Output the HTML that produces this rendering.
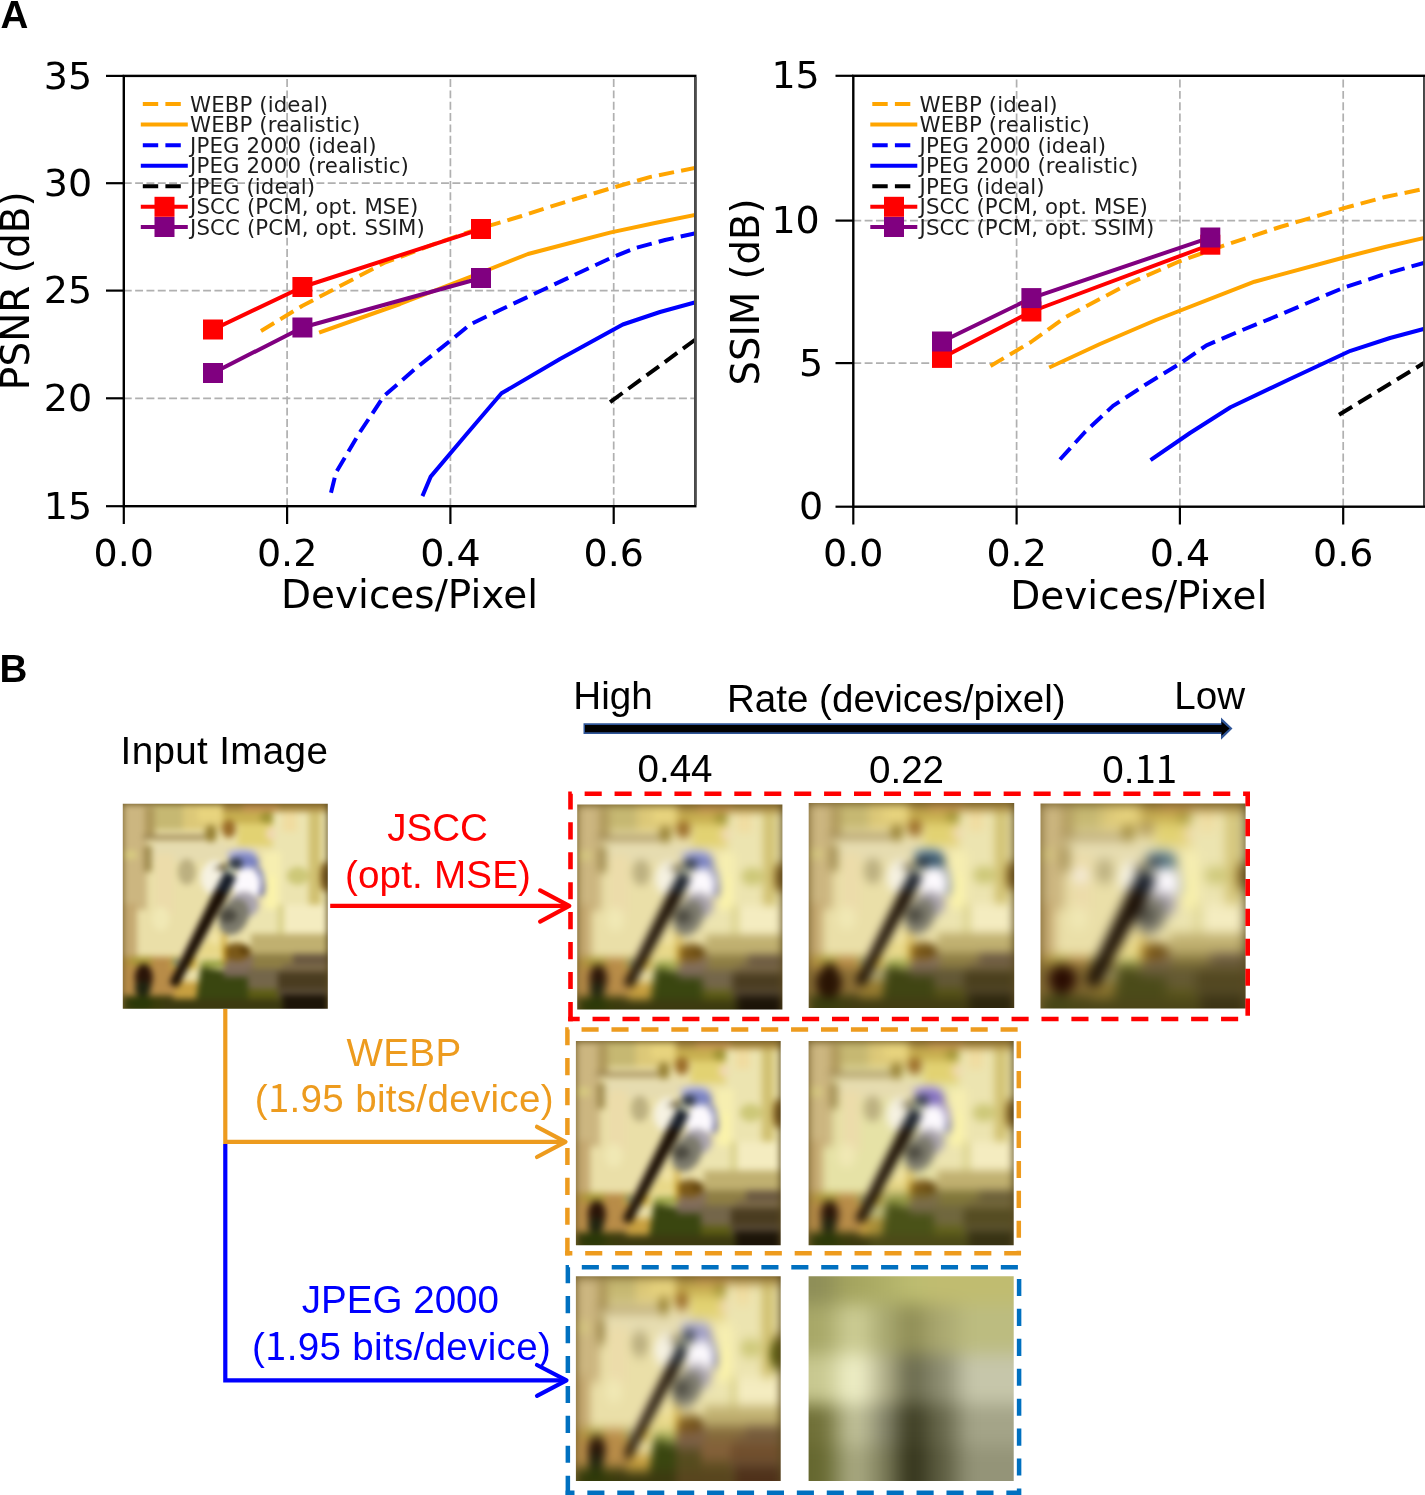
<!DOCTYPE html>
<html lang="en"><head><meta charset="utf-8"><title>Figure</title>
<style>html,body{margin:0;padding:0;background:#fff}svg{display:block}</style>
</head><body>
<svg width="1425" height="1495" viewBox="0 0 1425 1495">
<rect width="1425" height="1495" fill="#fff"/>
<text x="0.6" y="27.7" font-family='"Liberation Sans", Arial, Helvetica, sans-serif' font-weight="bold" font-size="38.6" fill="#000">A</text>
<text x="-0.5" y="681.6" font-family='"Liberation Sans", Arial, Helvetica, sans-serif' font-weight="bold" font-size="38.6" fill="#000">B</text>
<clipPath id="cl1"><rect x="123.8" y="75.9" width="571.5" height="430.3"/></clipPath>
<g stroke="#b0b0b0" stroke-width="1.7" stroke-dasharray="7.93 3.4" fill="none">
<line x1="287.1" y1="506.2" x2="287.1" y2="75.9"/>
<line x1="450.4" y1="506.2" x2="450.4" y2="75.9"/>
<line x1="613.7" y1="506.2" x2="613.7" y2="75.9"/>
<line x1="123.8" y1="398.3" x2="695.3" y2="398.3"/>
<line x1="123.8" y1="290.6" x2="695.3" y2="290.6"/>
<line x1="123.8" y1="183.2" x2="695.3" y2="183.2"/>
</g>
<g clip-path="url(#cl1)" fill="none" stroke-width="4.0" stroke-linejoin="round">
<polyline points="261.0,331.0 302.0,306.0 384.0,263.0 440.0,242.0 481.0,228.0 496.4,223.6 521.7,216.0 557.0,204.6 582.0,197.0 613.4,187.5 650.5,176.9 675.8,171.8 697.0,167.6" stroke="#ffa500" stroke-dasharray="15.4 7.2"/>
<polyline points="321.0,332.0 400.0,304.0 480.0,273.0 528.0,254.0 570.0,243.0 611.0,232.4 655.0,223.0 697.0,214.5" stroke="#ffa500" stroke-linecap="square"/>
<polyline points="331.0,492.7 336.0,472.5 360.0,432.0 384.0,396.0 415.0,369.0 451.0,340.2 470.0,324.5 500.0,310.0 530.6,295.6 570.0,277.0 611.4,257.7 636.7,247.6 665.0,240.0 697.0,233.0" stroke="#0000ff" stroke-dasharray="15.4 7.2"/>
<polyline points="423.2,494.3 430.7,476.6 465.0,436.0 501.5,393.3 560.0,359.0 622.8,324.5 660.0,312.0 697.0,301.8" stroke="#0000ff" stroke-linecap="square"/>
<polyline points="610.1,402.1 697.0,338.4" stroke="#000" stroke-dasharray="15.4 7.2"/>
<polyline points="213.0,373.0 302.4,327.5 481.0,278.0" stroke="#800080" stroke-linecap="square"/>
<polyline points="213.0,329.5 302.4,287.0 481.0,229.0" stroke="#ff0000" stroke-linecap="square"/>
<rect x="203.0" y="363.0" width="20" height="20" fill="#800080" stroke="none"/>
<rect x="292.4" y="317.5" width="20" height="20" fill="#800080" stroke="none"/>
<rect x="471.0" y="268.0" width="20" height="20" fill="#800080" stroke="none"/>
<rect x="203.0" y="319.5" width="20" height="20" fill="#ff0000" stroke="none"/>
<rect x="292.4" y="277.0" width="20" height="20" fill="#ff0000" stroke="none"/>
<rect x="471.0" y="219.0" width="20" height="20" fill="#ff0000" stroke="none"/>
</g>
<rect x="123.8" y="75.9" width="571.5" height="430.3" fill="none" stroke="#000" stroke-width="2.4"/>
<line x1="695.3" y1="77.1" x2="695.3" y2="505.0" stroke="#4d4d4d" stroke-width="2.4"/>
<g stroke="#000" stroke-width="2.2">
<line x1="123.8" y1="506.2" x2="123.8" y2="524.0"/>
<line x1="287.1" y1="506.2" x2="287.1" y2="524.0"/>
<line x1="450.4" y1="506.2" x2="450.4" y2="524.0"/>
<line x1="613.7" y1="506.2" x2="613.7" y2="524.0"/>
<line x1="106.0" y1="506.2" x2="123.8" y2="506.2"/>
<line x1="106.0" y1="398.3" x2="123.8" y2="398.3"/>
<line x1="106.0" y1="290.6" x2="123.8" y2="290.6"/>
<line x1="106.0" y1="183.2" x2="123.8" y2="183.2"/>
<line x1="106.0" y1="75.9" x2="123.8" y2="75.9"/>
</g>
<g font-family='"DejaVu Sans", "Liberation Sans", sans-serif' font-size="38.0" fill="#000">
<text x="123.8" y="565.5" text-anchor="middle">0.0</text>
<text x="287.1" y="565.5" text-anchor="middle">0.2</text>
<text x="450.4" y="565.5" text-anchor="middle">0.4</text>
<text x="613.7" y="565.5" text-anchor="middle">0.6</text>
<text x="92.1" y="518.8" text-anchor="end">15</text>
<text x="92.1" y="410.9" text-anchor="end">20</text>
<text x="92.1" y="303.2" text-anchor="end">25</text>
<text x="92.1" y="195.8" text-anchor="end">30</text>
<text x="92.1" y="88.5" text-anchor="end">35</text>
<text x="409.5" y="608.0" text-anchor="middle" font-size="39.0">Devices/Pixel</text>
<text transform="translate(29.2,290.7) rotate(-90)" text-anchor="middle" font-size="39.0">PSNR (dB)</text>
</g>
<g font-family='"DejaVu Sans", "Liberation Sans", sans-serif' font-size="21.3" fill="#1c1c1c" letter-spacing="0.1">
<line x1="142.8" y1="104.1" x2="185.8" y2="104.1" stroke="#ffa500" stroke-width="4.0" stroke-dasharray="15.4 7.2"/>
<text x="190.1" y="111.6">WEBP (ideal)</text>
<line x1="142.8" y1="124.6" x2="185.8" y2="124.6" stroke="#ffa500" stroke-width="4.0" stroke-linecap="square"/>
<text x="190.1" y="132.1">WEBP (realistic)</text>
<line x1="142.8" y1="145.2" x2="185.8" y2="145.2" stroke="#0000ff" stroke-width="4.0" stroke-dasharray="15.4 7.2"/>
<text x="190.1" y="152.7">JPEG 2000 (ideal)</text>
<line x1="142.8" y1="165.8" x2="185.8" y2="165.8" stroke="#0000ff" stroke-width="4.0" stroke-linecap="square"/>
<text x="190.1" y="173.3">JPEG 2000 (realistic)</text>
<line x1="142.8" y1="186.2" x2="185.8" y2="186.2" stroke="#000" stroke-width="4.0" stroke-dasharray="15.4 7.2"/>
<text x="190.1" y="193.7">JPEG (ideal)</text>
<line x1="142.8" y1="206.8" x2="185.8" y2="206.8" stroke="#ff0000" stroke-width="4.0" stroke-linecap="square"/>
<rect x="154.5" y="196.8" width="20" height="20" fill="#ff0000"/>
<text x="190.1" y="214.3">JSCC (PCM, opt. MSE)</text>
<line x1="142.8" y1="227.0" x2="185.8" y2="227.0" stroke="#800080" stroke-width="4.0" stroke-linecap="square"/>
<rect x="154.5" y="217.0" width="20" height="20" fill="#800080"/>
<text x="190.1" y="234.5">JSCC (PCM, opt. SSIM)</text>
</g>
<clipPath id="cl2"><rect x="853.3" y="75.8" width="571.1" height="430.9"/></clipPath>
<g stroke="#b0b0b0" stroke-width="1.7" stroke-dasharray="7.93 3.4" fill="none">
<line x1="1016.6" y1="506.7" x2="1016.6" y2="75.8"/>
<line x1="1179.9" y1="506.7" x2="1179.9" y2="75.8"/>
<line x1="1343.2" y1="506.7" x2="1343.2" y2="75.8"/>
<line x1="853.3" y1="363.1" x2="1424.4" y2="363.1"/>
<line x1="853.3" y1="220.6" x2="1424.4" y2="220.6"/>
</g>
<g clip-path="url(#cl2)" fill="none" stroke-width="4.0" stroke-linejoin="round">
<polyline points="990.5,366.0 1031.0,342.0 1065.0,317.5 1130.0,283.0 1179.0,261.5 1221.6,246.3 1280.0,227.0 1343.0,208.4 1385.0,197.0 1426.0,188.5" stroke="#ffa500" stroke-dasharray="15.4 7.2"/>
<polyline points="1051.0,366.7 1100.0,344.0 1156.0,320.0 1254.5,281.7 1343.0,257.7 1385.0,247.0 1426.0,237.5" stroke="#ffa500" stroke-linecap="square"/>
<polyline points="1060.0,459.5 1085.0,432.0 1113.0,405.9 1145.0,385.0 1179.0,364.2 1206.5,345.3 1240.0,331.0 1272.0,318.0 1343.0,288.0 1385.0,274.0 1426.0,262.3" stroke="#0000ff" stroke-dasharray="15.4 7.2"/>
<polyline points="1152.2,459.0 1190.0,433.0 1230.5,407.2 1290.0,379.0 1350.5,350.8 1390.0,338.0 1426.0,328.3" stroke="#0000ff" stroke-linecap="square"/>
<polyline points="1339.0,414.7 1426.0,361.8" stroke="#000" stroke-dasharray="15.4 7.2"/>
<polyline points="942.0,357.9 1031.4,311.5 1210.3,244.7" stroke="#ff0000" stroke-linecap="square"/>
<polyline points="942.0,341.5 1031.4,298.1 1210.3,237.5" stroke="#800080" stroke-linecap="square"/>
<rect x="932.0" y="347.9" width="20" height="20" fill="#ff0000" stroke="none"/>
<rect x="1021.4" y="301.5" width="20" height="20" fill="#ff0000" stroke="none"/>
<rect x="1200.3" y="234.7" width="20" height="20" fill="#ff0000" stroke="none"/>
<rect x="932.0" y="331.5" width="20" height="20" fill="#800080" stroke="none"/>
<rect x="1021.4" y="288.1" width="20" height="20" fill="#800080" stroke="none"/>
<rect x="1200.3" y="227.5" width="20" height="20" fill="#800080" stroke="none"/>
</g>
<rect x="853.3" y="75.8" width="571.1" height="430.9" fill="none" stroke="#000" stroke-width="2.4"/>
<line x1="1424.4" y1="77.0" x2="1424.4" y2="505.5" stroke="#4d4d4d" stroke-width="2.4"/>
<g stroke="#000" stroke-width="2.2">
<line x1="853.3" y1="506.7" x2="853.3" y2="524.5"/>
<line x1="1016.6" y1="506.7" x2="1016.6" y2="524.5"/>
<line x1="1179.9" y1="506.7" x2="1179.9" y2="524.5"/>
<line x1="1343.2" y1="506.7" x2="1343.2" y2="524.5"/>
<line x1="835.5" y1="506.7" x2="853.3" y2="506.7"/>
<line x1="835.5" y1="363.1" x2="853.3" y2="363.1"/>
<line x1="835.5" y1="220.6" x2="853.3" y2="220.6"/>
<line x1="835.5" y1="75.8" x2="853.3" y2="75.8"/>
</g>
<g font-family='"DejaVu Sans", "Liberation Sans", sans-serif' font-size="38.0" fill="#000">
<text x="853.3" y="566.0" text-anchor="middle">0.0</text>
<text x="1016.6" y="566.0" text-anchor="middle">0.2</text>
<text x="1179.9" y="566.0" text-anchor="middle">0.4</text>
<text x="1343.2" y="566.0" text-anchor="middle">0.6</text>
<text x="823.1" y="519.3" text-anchor="end">0</text>
<text x="823.1" y="375.7" text-anchor="end">5</text>
<text x="819.8" y="233.2" text-anchor="end">10</text>
<text x="819.8" y="88.4" text-anchor="end">15</text>
<text x="1138.8" y="608.5" text-anchor="middle" font-size="39.0">Devices/Pixel</text>
<text transform="translate(758.6,291.9) rotate(-90)" text-anchor="middle" font-size="38.6">SSIM (dB)</text>
</g>
<g font-family='"DejaVu Sans", "Liberation Sans", sans-serif' font-size="21.3" fill="#1c1c1c" letter-spacing="0.1">
<line x1="872.3" y1="104.1" x2="915.3" y2="104.1" stroke="#ffa500" stroke-width="4.0" stroke-dasharray="15.4 7.2"/>
<text x="919.6" y="111.6">WEBP (ideal)</text>
<line x1="872.3" y1="124.6" x2="915.3" y2="124.6" stroke="#ffa500" stroke-width="4.0" stroke-linecap="square"/>
<text x="919.6" y="132.1">WEBP (realistic)</text>
<line x1="872.3" y1="145.2" x2="915.3" y2="145.2" stroke="#0000ff" stroke-width="4.0" stroke-dasharray="15.4 7.2"/>
<text x="919.6" y="152.7">JPEG 2000 (ideal)</text>
<line x1="872.3" y1="165.8" x2="915.3" y2="165.8" stroke="#0000ff" stroke-width="4.0" stroke-linecap="square"/>
<text x="919.6" y="173.3">JPEG 2000 (realistic)</text>
<line x1="872.3" y1="186.2" x2="915.3" y2="186.2" stroke="#000" stroke-width="4.0" stroke-dasharray="15.4 7.2"/>
<text x="919.6" y="193.7">JPEG (ideal)</text>
<line x1="872.3" y1="206.8" x2="915.3" y2="206.8" stroke="#ff0000" stroke-width="4.0" stroke-linecap="square"/>
<rect x="884.0" y="196.8" width="20" height="20" fill="#ff0000"/>
<text x="919.6" y="214.3">JSCC (PCM, opt. MSE)</text>
<line x1="872.3" y1="227.0" x2="915.3" y2="227.0" stroke="#800080" stroke-width="4.0" stroke-linecap="square"/>
<rect x="884.0" y="217.0" width="20" height="20" fill="#800080"/>
<text x="919.6" y="234.5">JSCC (PCM, opt. SSIM)</text>
</g>
<filter id="bf0" filterUnits="userSpaceOnUse" x="-40" y="-40" width="285" height="285" color-interpolation-filters="sRGB"><feGaussianBlur stdDeviation="3.4"/></filter>
<svg x="122.8" y="803.8" width="205.0" height="205.0" viewBox="0 0 205 205" preserveAspectRatio="none" overflow="hidden">
<g filter="url(#bf0)">
<rect x="-40" y="-40" width="285" height="285" fill="#eadfa8"/>
<rect x="-40" y="-40" width="64" height="146" fill="#ccb680"/>
<rect x="-40" y="100" width="54" height="56" fill="#c4a870"/>
<rect x="22" y="2" width="10" height="34" fill="#ae985a"/>
<rect x="32" y="-40" width="30" height="66" fill="#c6b872"/>
<rect x="60" y="-40" width="50" height="66" fill="#dcc878"/>
<rect x="75" y="4" width="30" height="14" fill="#e8d47e"/>
<rect x="20" y="31" width="62" height="5" fill="#a08a58"/>
<ellipse cx="88" cy="30" rx="6" ry="9" fill="#988236"/>
<rect x="30" y="38" width="75" height="20" fill="#e6dcb0"/>
<rect x="21" y="42" width="8" height="26" fill="#a08c50"/>
<rect x="33" y="50" width="18" height="62" fill="#ecdcaa"/>
<ellipse cx="64" cy="68" rx="9" ry="13" fill="#bcb080"/>
<ellipse cx="92" cy="74" rx="14" ry="17" fill="#f6f2e2"/>
<rect x="-40" y="47" width="54" height="8" fill="#d8cc80"/>
<ellipse cx="38" cy="115" rx="9" ry="12" fill="#f0e8b4"/>
<rect x="100" y="-40" width="145" height="48" fill="#a88840"/>
<rect x="120" y="-40" width="35" height="49" fill="#c09050"/>
<rect x="100" y="8" width="60" height="12" fill="#c8b050"/>
<ellipse cx="146" cy="14" rx="9" ry="6" fill="#a09434"/>
<ellipse cx="106" cy="25" rx="7" ry="9" fill="#9a6c28"/>
<rect x="115" y="20" width="40" height="22" fill="#e2d272"/>
<rect x="150" y="8" width="95" height="100" fill="#ece4b0"/>
<rect x="186" y="8" width="12" height="100" fill="#d0c070"/>
<rect x="160" y="8" width="14" height="20" fill="#f0dca0"/>
<ellipse cx="202" cy="73" rx="5" ry="15" fill="#8a6828"/>
<ellipse cx="205.5" cy="73" rx="3.5" ry="11" fill="#4a2c08"/>
<ellipse cx="175" cy="72" rx="11" ry="9" fill="#cdc878"/>
<rect x="140" y="48" width="18" height="62" fill="#f6eeb0"/>
<rect x="145" y="72" width="7" height="36" fill="#fcf4a8"/>
<ellipse cx="148" cy="30" rx="5" ry="7" fill="#f0d8b0"/>
<rect x="125" y="105" width="35" height="35" fill="#ece4b0"/>
<rect x="155" y="101" width="50" height="30" fill="#f4ecc0"/>
<rect x="155" y="101" width="6" height="30" fill="#d8d088"/>
<rect x="128" y="130" width="120" height="21" fill="#c0b070"/>
<rect x="-40" y="153" width="100" height="92" fill="#b88c48"/>
<rect x="-40" y="153" width="70" height="10" fill="#b49040"/>
<rect x="8" y="153" width="20" height="8" fill="#a89838"/>
<ellipse cx="21" cy="174" rx="9" ry="14" fill="#2a1408"/>
<ellipse cx="20" cy="185" rx="8" ry="8" fill="#202410"/>
<rect x="-40" y="192" width="90" height="53" fill="#3a3c0c"/>
<ellipse cx="18" cy="199" rx="12" ry="7" fill="#2a3808"/>
<rect x="48" y="153" width="26" height="12" fill="#d0b040"/>
<ellipse cx="53" cy="158" rx="3" ry="4" fill="#6a8068"/>
<rect x="52" y="178" width="24" height="24" fill="#c8a040"/>
<path d="M70,154 L96,122 L102,154 Z" fill="#e8d888"/>
<ellipse cx="92" cy="135" rx="5" ry="6" fill="#f2e4a4"/>
<path d="M78,163 L132,172 L132,245 L66,245 Z" fill="#3a4610"/>
<rect x="78" y="157" width="25" height="6" fill="#8a9830"/>
<rect x="125" y="185" width="32" height="60" fill="#5c5c14"/>
<rect x="101" y="150" width="30" height="16" fill="#86705a"/>
<rect x="130" y="150" width="40" height="16" fill="#8e7e44"/>
<rect x="170" y="150" width="75" height="16" fill="#6a5840"/>
<rect x="101" y="165" width="28" height="8" fill="#7a6858"/>
<rect x="125" y="165" width="35" height="20" fill="#74664a"/>
<rect x="160" y="160" width="85" height="10" fill="#7a6848"/>
<rect x="155" y="168" width="90" height="18" fill="#4a3c20"/>
<rect x="155" y="185" width="90" height="8" fill="#5a4c38"/>
<rect x="158" y="191" width="90" height="54" fill="#1c1408"/>
<rect x="40" y="195" width="120" height="50" fill="#3c3a10"/>
<ellipse cx="114" cy="148" rx="14" ry="9" fill="#7a5818"/>
<ellipse cx="122" cy="146" rx="5" ry="4" fill="#5a3c08"/>
<rect x="100" y="130" width="3" height="30" fill="#c89818"/>
<ellipse cx="119" cy="50" rx="15" ry="5.5" fill="#b8b8d8"/>
<ellipse cx="121" cy="58" rx="15.5" ry="8" fill="#7a82c2"/>
<ellipse cx="137" cy="76" rx="4.5" ry="14" fill="#7c80b8" transform="rotate(-10 137 76)"/>
<ellipse cx="138" cy="85" rx="4" ry="8" fill="#60609a"/>
<ellipse cx="124" cy="81" rx="14" ry="17" fill="#fcf9fd"/>
<ellipse cx="106" cy="69" rx="5" ry="6" fill="#ccd8c4"/>
<ellipse cx="121" cy="101" rx="15" ry="13" fill="#aaa4ae"/>
<ellipse cx="111" cy="113" rx="14" ry="19" fill="#7c7a6c" transform="rotate(27 111 113)"/>
<ellipse cx="105" cy="112" rx="9" ry="7" fill="#4c4a40"/>
<ellipse cx="113" cy="60" rx="7" ry="6" fill="#343c48"/>
<path d="M90,65 L104,59 L104,67 Z" fill="#5c4e28"/>
<path d="M85.8,98.8 L90.2,101.2 L56.8,163.9 L53.2,162.1 Z" fill="#ead2b0"/>
<path d="M102.3,67.1 L113.7,72.9 L99.1,103.0 L86.9,97.0 Z" fill="#161c28"/>
<path d="M92.8,85.0 L104.6,91.0 L54.7,183.6 L46.5,179.4 Z" fill="#1a0e04"/>
<rect x="-40" y="-40" width="285" height="40.6" fill="#6a5420"/>
<rect x="-40" y="-40" width="40.6" height="285" fill="#7a6430"/>
<rect x="204.3" y="-40" width="40" height="285" fill="#5a4a20"/>
</g></svg>
<filter id="bf1" filterUnits="userSpaceOnUse" x="-40" y="-40" width="285" height="285" color-interpolation-filters="sRGB"><feGaussianBlur stdDeviation="4.0"/></filter>
<svg x="577.2" y="804.6" width="205.2" height="205.0" viewBox="0 0 205 205" preserveAspectRatio="none" overflow="hidden">
<g filter="url(#bf1)">
<rect x="-40" y="-40" width="285" height="285" fill="#eadfa8"/>
<rect x="-40" y="-40" width="64" height="146" fill="#ccb680"/>
<rect x="-40" y="100" width="54" height="56" fill="#c4a870"/>
<rect x="22" y="2" width="10" height="34" fill="#ae985a"/>
<rect x="32" y="-40" width="30" height="66" fill="#c6b872"/>
<rect x="60" y="-40" width="50" height="66" fill="#dcc878"/>
<rect x="75" y="4" width="30" height="14" fill="#e8d47e"/>
<rect x="20" y="31" width="62" height="5" fill="#a08a58"/>
<ellipse cx="88" cy="30" rx="6" ry="9" fill="#988236"/>
<rect x="30" y="38" width="75" height="20" fill="#e6dcb0"/>
<rect x="21" y="42" width="8" height="26" fill="#a08c50"/>
<rect x="33" y="50" width="18" height="62" fill="#ecdcaa"/>
<ellipse cx="64" cy="68" rx="9" ry="13" fill="#bcb080"/>
<ellipse cx="92" cy="74" rx="14" ry="17" fill="#f6f2e2"/>
<rect x="-40" y="47" width="54" height="8" fill="#d8cc80"/>
<ellipse cx="38" cy="115" rx="9" ry="12" fill="#f0e8b4"/>
<rect x="100" y="-40" width="145" height="48" fill="#a88840"/>
<rect x="120" y="-40" width="35" height="49" fill="#c09050"/>
<rect x="100" y="8" width="60" height="12" fill="#c8b050"/>
<ellipse cx="146" cy="14" rx="9" ry="6" fill="#a09434"/>
<ellipse cx="106" cy="25" rx="7" ry="9" fill="#9a6c28"/>
<rect x="115" y="20" width="40" height="22" fill="#e2d272"/>
<rect x="150" y="8" width="95" height="100" fill="#ece4b0"/>
<rect x="186" y="8" width="12" height="100" fill="#d0c070"/>
<rect x="160" y="8" width="14" height="20" fill="#f0dca0"/>
<ellipse cx="202" cy="73" rx="5" ry="15" fill="#8a6828"/>
<ellipse cx="205.5" cy="73" rx="3.5" ry="11" fill="#4a2c08"/>
<ellipse cx="175" cy="72" rx="11" ry="9" fill="#cdc878"/>
<rect x="140" y="48" width="18" height="62" fill="#f6eeb0"/>
<rect x="145" y="72" width="7" height="36" fill="#fcf4a8"/>
<ellipse cx="148" cy="30" rx="5" ry="7" fill="#f0d8b0"/>
<rect x="125" y="105" width="35" height="35" fill="#ece4b0"/>
<rect x="155" y="101" width="50" height="30" fill="#f4ecc0"/>
<rect x="155" y="101" width="6" height="30" fill="#d8d088"/>
<rect x="128" y="130" width="120" height="21" fill="#c0b070"/>
<rect x="-40" y="153" width="100" height="92" fill="#b88c48"/>
<rect x="-40" y="153" width="70" height="10" fill="#b49040"/>
<rect x="8" y="153" width="20" height="8" fill="#a89838"/>
<ellipse cx="21" cy="174" rx="9" ry="14" fill="#2a1408"/>
<ellipse cx="20" cy="185" rx="8" ry="8" fill="#202410"/>
<rect x="-40" y="192" width="90" height="53" fill="#3a3c0c"/>
<ellipse cx="18" cy="199" rx="12" ry="7" fill="#2a3808"/>
<rect x="48" y="153" width="26" height="12" fill="#d0b040"/>
<ellipse cx="53" cy="158" rx="3" ry="4" fill="#6a8068"/>
<rect x="52" y="178" width="24" height="24" fill="#c8a040"/>
<path d="M70,154 L96,122 L102,154 Z" fill="#e8d888"/>
<ellipse cx="92" cy="135" rx="5" ry="6" fill="#f2e4a4"/>
<path d="M78,163 L132,172 L132,245 L66,245 Z" fill="#3a4610"/>
<rect x="78" y="157" width="25" height="6" fill="#8a9830"/>
<rect x="125" y="185" width="32" height="60" fill="#5c5c14"/>
<rect x="101" y="150" width="30" height="16" fill="#86705a"/>
<rect x="130" y="150" width="40" height="16" fill="#8e7e44"/>
<rect x="170" y="150" width="75" height="16" fill="#6a5840"/>
<rect x="101" y="165" width="28" height="8" fill="#7a6858"/>
<rect x="125" y="165" width="35" height="20" fill="#74664a"/>
<rect x="160" y="160" width="85" height="10" fill="#7a6848"/>
<rect x="155" y="168" width="90" height="18" fill="#4a3c20"/>
<rect x="155" y="185" width="90" height="8" fill="#5a4c38"/>
<rect x="158" y="191" width="90" height="54" fill="#1c1408"/>
<rect x="40" y="195" width="120" height="50" fill="#3c3a10"/>
<ellipse cx="114" cy="148" rx="14" ry="9" fill="#7a5818"/>
<ellipse cx="122" cy="146" rx="5" ry="4" fill="#5a3c08"/>
<rect x="100" y="130" width="3" height="30" fill="#c89818"/>
<ellipse cx="119" cy="50" rx="15" ry="5.5" fill="#b8b8d8"/>
<ellipse cx="121" cy="58" rx="15.5" ry="8" fill="#7a82c2"/>
<ellipse cx="137" cy="76" rx="4.5" ry="14" fill="#7c80b8" transform="rotate(-10 137 76)"/>
<ellipse cx="138" cy="85" rx="4" ry="8" fill="#60609a"/>
<ellipse cx="124" cy="81" rx="14" ry="17" fill="#fcf9fd"/>
<ellipse cx="106" cy="69" rx="5" ry="6" fill="#ccd8c4"/>
<ellipse cx="121" cy="101" rx="15" ry="13" fill="#aaa4ae"/>
<ellipse cx="111" cy="113" rx="14" ry="19" fill="#7c7a6c" transform="rotate(27 111 113)"/>
<ellipse cx="105" cy="112" rx="9" ry="7" fill="#4c4a40"/>
<ellipse cx="113" cy="60" rx="7" ry="6" fill="#343c48"/>
<path d="M90,65 L104,59 L104,67 Z" fill="#5c4e28"/>
<path d="M85.8,98.8 L90.2,101.2 L56.8,163.9 L53.2,162.1 Z" fill="#ead2b0"/>
<path d="M102.3,67.1 L113.7,72.9 L99.1,103.0 L86.9,97.0 Z" fill="#161c28"/>
<path d="M92.8,85.0 L104.6,91.0 L54.7,183.6 L46.5,179.4 Z" fill="#1a0e04"/>
<rect x="-40" y="-40" width="285" height="40.6" fill="#6a5420"/>
<rect x="-40" y="-40" width="40.6" height="285" fill="#7a6430"/>
<rect x="204.3" y="-40" width="40" height="285" fill="#5a4a20"/>
</g></svg>
<filter id="bf2" filterUnits="userSpaceOnUse" x="-40" y="-40" width="285" height="285" color-interpolation-filters="sRGB"><feGaussianBlur stdDeviation="5.0"/></filter>
<svg x="808.7" y="803.0" width="205.5" height="205.0" viewBox="0 0 205 205" preserveAspectRatio="none" overflow="hidden">
<g filter="url(#bf2)">
<rect x="-40" y="-40" width="285" height="285" fill="#eadfa8"/>
<rect x="-40" y="-40" width="64" height="146" fill="#ccb680"/>
<rect x="-40" y="100" width="54" height="56" fill="#c4a870"/>
<rect x="22" y="2" width="10" height="34" fill="#ae985a"/>
<rect x="32" y="-40" width="30" height="66" fill="#c6b872"/>
<rect x="60" y="-40" width="50" height="66" fill="#dcc878"/>
<rect x="75" y="4" width="30" height="14" fill="#e8d47e"/>
<rect x="20" y="31" width="62" height="5" fill="#a08a58"/>
<ellipse cx="88" cy="30" rx="6" ry="9" fill="#988236"/>
<rect x="30" y="38" width="75" height="20" fill="#e6dcb0"/>
<rect x="21" y="42" width="8" height="26" fill="#a08c50"/>
<rect x="33" y="50" width="18" height="62" fill="#ecdcaa"/>
<ellipse cx="64" cy="68" rx="9" ry="13" fill="#bcb080"/>
<ellipse cx="92" cy="74" rx="14" ry="17" fill="#f6f2e2"/>
<rect x="-40" y="47" width="54" height="8" fill="#d8cc80"/>
<ellipse cx="38" cy="115" rx="9" ry="12" fill="#f0e8b4"/>
<rect x="100" y="-40" width="145" height="48" fill="#a88840"/>
<rect x="120" y="-40" width="35" height="49" fill="#c09050"/>
<rect x="100" y="8" width="60" height="12" fill="#c8b050"/>
<ellipse cx="146" cy="14" rx="9" ry="6" fill="#a09434"/>
<ellipse cx="106" cy="25" rx="7" ry="9" fill="#9a6c28"/>
<rect x="115" y="20" width="40" height="22" fill="#e2d272"/>
<rect x="150" y="8" width="95" height="100" fill="#ece4b0"/>
<rect x="186" y="8" width="12" height="100" fill="#d0c070"/>
<rect x="160" y="8" width="14" height="20" fill="#f0dca0"/>
<ellipse cx="202" cy="73" rx="5" ry="15" fill="#8a6828"/>
<ellipse cx="205.5" cy="73" rx="3.5" ry="11" fill="#4a2c08"/>
<ellipse cx="175" cy="72" rx="11" ry="9" fill="#cdc878"/>
<rect x="140" y="48" width="18" height="62" fill="#f6eeb0"/>
<rect x="145" y="72" width="7" height="36" fill="#fcf4a8"/>
<ellipse cx="148" cy="30" rx="5" ry="7" fill="#f0d8b0"/>
<rect x="125" y="105" width="35" height="35" fill="#ece4b0"/>
<rect x="155" y="101" width="50" height="30" fill="#f4ecc0"/>
<rect x="155" y="101" width="6" height="30" fill="#d8d088"/>
<rect x="128" y="130" width="120" height="21" fill="#c0b070"/>
<rect x="-40" y="153" width="100" height="92" fill="#b88c48"/>
<rect x="-40" y="153" width="70" height="10" fill="#b49040"/>
<rect x="8" y="153" width="20" height="8" fill="#a89838"/>
<ellipse cx="21" cy="174" rx="9" ry="14" fill="#2a1408"/>
<ellipse cx="20" cy="185" rx="8" ry="8" fill="#202410"/>
<rect x="-40" y="192" width="90" height="53" fill="#3a3c0c"/>
<ellipse cx="18" cy="199" rx="12" ry="7" fill="#2a3808"/>
<rect x="48" y="153" width="26" height="12" fill="#d0b040"/>
<ellipse cx="53" cy="158" rx="3" ry="4" fill="#6a8068"/>
<rect x="52" y="178" width="24" height="24" fill="#c8a040"/>
<path d="M70,154 L96,122 L102,154 Z" fill="#e8d888"/>
<ellipse cx="92" cy="135" rx="5" ry="6" fill="#f2e4a4"/>
<path d="M78,163 L132,172 L132,245 L66,245 Z" fill="#3a4610"/>
<rect x="78" y="157" width="25" height="6" fill="#8a9830"/>
<rect x="125" y="185" width="32" height="60" fill="#5c5c14"/>
<rect x="101" y="150" width="30" height="16" fill="#86705a"/>
<rect x="130" y="150" width="40" height="16" fill="#8e7e44"/>
<rect x="170" y="150" width="75" height="16" fill="#6a5840"/>
<rect x="101" y="165" width="28" height="8" fill="#7a6858"/>
<rect x="125" y="165" width="35" height="20" fill="#74664a"/>
<rect x="160" y="160" width="85" height="10" fill="#7a6848"/>
<rect x="155" y="168" width="90" height="18" fill="#4a3c20"/>
<rect x="155" y="185" width="90" height="8" fill="#5a4c38"/>
<rect x="158" y="191" width="90" height="54" fill="#1c1408"/>
<rect x="40" y="195" width="120" height="50" fill="#3c3a10"/>
<ellipse cx="114" cy="148" rx="14" ry="9" fill="#7a5818"/>
<ellipse cx="122" cy="146" rx="5" ry="4" fill="#5a3c08"/>
<rect x="100" y="130" width="3" height="30" fill="#c89818"/>
<rect x="-40" y="165" width="285" height="90" fill="#4a4418" opacity="0.4"/>
<ellipse cx="20" cy="180" rx="13" ry="15" fill="#2a1404"/>
<ellipse cx="119" cy="50" rx="15" ry="5.5" fill="#8aa0a8"/>
<ellipse cx="121" cy="58" rx="15.5" ry="8" fill="#3c5a70"/>
<ellipse cx="137" cy="76" rx="4.5" ry="14" fill="#8a94a8" transform="rotate(-10 137 76)"/>
<ellipse cx="138" cy="85" rx="4" ry="8" fill="#7a8498"/>
<ellipse cx="124" cy="81" rx="14" ry="17" fill="#fcf9fd"/>
<ellipse cx="106" cy="69" rx="5" ry="6" fill="#ccd8c4"/>
<ellipse cx="121" cy="101" rx="15" ry="13" fill="#aaa4ae"/>
<ellipse cx="111" cy="113" rx="14" ry="19" fill="#7c7a6c" transform="rotate(27 111 113)"/>
<ellipse cx="105" cy="112" rx="9" ry="7" fill="#4c4a40"/>
<ellipse cx="113" cy="60" rx="7" ry="6" fill="#283440"/>
<path d="M90,65 L104,59 L104,67 Z" fill="#5c4e28"/>
<path d="M85.8,98.8 L90.2,101.2 L56.8,163.9 L53.2,162.1 Z" fill="#ead2b0"/>
<path d="M102.3,67.1 L113.7,72.9 L99.1,103.0 L86.9,97.0 Z" fill="#161c28"/>
<path d="M92.8,85.0 L104.6,91.0 L54.7,183.6 L46.5,179.4 Z" fill="#1a0e04"/>
<rect x="-40" y="-40" width="285" height="40.6" fill="#6a5420"/>
<rect x="-40" y="-40" width="40.6" height="285" fill="#7a6430"/>
<rect x="204.3" y="-40" width="40" height="285" fill="#5a4a20"/>
</g></svg>
<filter id="bf3" filterUnits="userSpaceOnUse" x="-40" y="-40" width="285" height="285" color-interpolation-filters="sRGB"><feGaussianBlur stdDeviation="6.0"/></filter>
<svg x="1040.5" y="803.4" width="205.1" height="205.0" viewBox="0 0 205 205" preserveAspectRatio="none" overflow="hidden">
<g filter="url(#bf3)">
<rect x="-40" y="-40" width="285" height="285" fill="#eadfa8"/>
<rect x="-40" y="-40" width="64" height="146" fill="#ccb680"/>
<rect x="-40" y="100" width="54" height="56" fill="#c4a870"/>
<rect x="22" y="2" width="10" height="34" fill="#ae985a"/>
<rect x="32" y="-40" width="30" height="66" fill="#c6b872"/>
<rect x="60" y="-40" width="50" height="66" fill="#dcc878"/>
<rect x="75" y="4" width="30" height="14" fill="#e8d47e"/>
<rect x="20" y="31" width="62" height="5" fill="#a08a58"/>
<ellipse cx="88" cy="30" rx="6" ry="9" fill="#988236"/>
<rect x="30" y="38" width="75" height="20" fill="#e6dcb0"/>
<rect x="21" y="42" width="8" height="26" fill="#a08c50"/>
<rect x="33" y="50" width="18" height="62" fill="#ecdcaa"/>
<ellipse cx="64" cy="68" rx="9" ry="13" fill="#bcb080"/>
<ellipse cx="92" cy="74" rx="14" ry="17" fill="#f6f2e2"/>
<rect x="-40" y="47" width="54" height="8" fill="#d8cc80"/>
<ellipse cx="38" cy="115" rx="9" ry="12" fill="#f0e8b4"/>
<rect x="100" y="-40" width="145" height="48" fill="#a88840"/>
<rect x="120" y="-40" width="35" height="49" fill="#c09050"/>
<rect x="100" y="8" width="60" height="12" fill="#c8b050"/>
<ellipse cx="146" cy="14" rx="9" ry="6" fill="#a09434"/>
<ellipse cx="106" cy="25" rx="7" ry="9" fill="#b09858"/>
<rect x="115" y="20" width="40" height="22" fill="#e2d272"/>
<rect x="150" y="8" width="95" height="100" fill="#ece4b0"/>
<rect x="186" y="8" width="12" height="100" fill="#d0c070"/>
<rect x="160" y="8" width="14" height="20" fill="#f0dca0"/>
<ellipse cx="202" cy="73" rx="5" ry="15" fill="#8a6828"/>
<ellipse cx="205.5" cy="73" rx="3.5" ry="11" fill="#4a2c08"/>
<ellipse cx="175" cy="72" rx="11" ry="9" fill="#cdc878"/>
<rect x="140" y="48" width="18" height="62" fill="#f6eeb0"/>
<rect x="145" y="72" width="7" height="36" fill="#fcf4a8"/>
<ellipse cx="148" cy="30" rx="5" ry="7" fill="#f0d8b0"/>
<rect x="125" y="105" width="35" height="35" fill="#ece4b0"/>
<rect x="155" y="101" width="50" height="30" fill="#f4ecc0"/>
<rect x="155" y="101" width="6" height="30" fill="#d8d088"/>
<rect x="128" y="130" width="120" height="21" fill="#c0b070"/>
<rect x="-40" y="153" width="100" height="92" fill="#b88c48"/>
<rect x="-40" y="153" width="70" height="10" fill="#b49040"/>
<rect x="8" y="153" width="20" height="8" fill="#a89838"/>
<ellipse cx="21" cy="174" rx="9" ry="14" fill="#2a1408"/>
<ellipse cx="20" cy="185" rx="8" ry="8" fill="#202410"/>
<rect x="-40" y="192" width="90" height="53" fill="#3a3c0c"/>
<ellipse cx="18" cy="199" rx="12" ry="7" fill="#2a3808"/>
<rect x="48" y="153" width="26" height="12" fill="#d0b040"/>
<ellipse cx="53" cy="158" rx="3" ry="4" fill="#6a8068"/>
<rect x="52" y="178" width="24" height="24" fill="#c8a040"/>
<path d="M70,154 L96,122 L102,154 Z" fill="#e8d888"/>
<ellipse cx="92" cy="135" rx="5" ry="6" fill="#f2e4a4"/>
<path d="M78,163 L132,172 L132,245 L66,245 Z" fill="#3a4610"/>
<rect x="78" y="157" width="25" height="6" fill="#8a9830"/>
<rect x="125" y="185" width="32" height="60" fill="#5c5c14"/>
<rect x="101" y="150" width="30" height="16" fill="#86705a"/>
<rect x="130" y="150" width="40" height="16" fill="#8e7e44"/>
<rect x="170" y="150" width="75" height="16" fill="#6a5840"/>
<rect x="101" y="165" width="28" height="8" fill="#7a6858"/>
<rect x="125" y="165" width="35" height="20" fill="#74664a"/>
<rect x="160" y="160" width="85" height="10" fill="#7a6848"/>
<rect x="155" y="168" width="90" height="18" fill="#4a3c20"/>
<rect x="155" y="185" width="90" height="8" fill="#5a4c38"/>
<rect x="158" y="191" width="90" height="54" fill="#1c1408"/>
<rect x="40" y="195" width="120" height="50" fill="#3c3a10"/>
<ellipse cx="114" cy="148" rx="14" ry="9" fill="#7a5818"/>
<ellipse cx="122" cy="146" rx="5" ry="4" fill="#5a3c08"/>
<rect x="100" y="130" width="3" height="30" fill="#c89818"/>
<rect x="-40" y="160" width="285" height="90" fill="#5a5020" opacity="0.55"/>
<ellipse cx="22" cy="176" rx="14" ry="14" fill="#2a0c02"/>
<ellipse cx="40" cy="72" rx="9" ry="8" fill="#f4ead8"/>
<ellipse cx="119" cy="50" rx="15" ry="5.5" fill="#b8c0b4"/>
<ellipse cx="121" cy="58" rx="15.5" ry="8" fill="#50707c"/>
<ellipse cx="137" cy="76" rx="4.5" ry="14" fill="#b0b4b0" transform="rotate(-10 137 76)"/>
<ellipse cx="138" cy="85" rx="4" ry="8" fill="#a0a4a0"/>
<ellipse cx="124" cy="81" rx="14" ry="17" fill="#fcf9fd"/>
<ellipse cx="106" cy="69" rx="5" ry="6" fill="#ccd8c4"/>
<ellipse cx="121" cy="101" rx="15" ry="13" fill="#aaa4ae"/>
<ellipse cx="111" cy="113" rx="14" ry="19" fill="#7c7a6c" transform="rotate(27 111 113)"/>
<ellipse cx="105" cy="112" rx="9" ry="7" fill="#4c4a40"/>
<ellipse cx="113" cy="60" rx="7" ry="6" fill="#343c48"/>
<path d="M90,65 L104,59 L104,67 Z" fill="#5c4e28"/>
<path d="M99.7,65.8 L116.3,74.2 L101.8,104.4 L84.2,95.6 Z" fill="#161c28"/>
<path d="M90.2,83.6 L107.2,92.4 L56.5,184.6 L44.7,178.4 Z" fill="#1a0e04"/>
<rect x="-40" y="-40" width="285" height="40.6" fill="#6a5420"/>
<rect x="-40" y="-40" width="40.6" height="285" fill="#7a6430"/>
<rect x="204.3" y="-40" width="40" height="285" fill="#5a4a20"/>
</g></svg>
<filter id="bf4" filterUnits="userSpaceOnUse" x="-40" y="-40" width="285" height="285" color-interpolation-filters="sRGB"><feGaussianBlur stdDeviation="3.6"/></filter>
<svg x="575.9" y="1041.0" width="204.8" height="204.2" viewBox="0 0 205 205" preserveAspectRatio="none" overflow="hidden">
<g filter="url(#bf4)">
<rect x="-40" y="-40" width="285" height="285" fill="#eadfa8"/>
<rect x="-40" y="-40" width="64" height="146" fill="#ccb680"/>
<rect x="-40" y="100" width="54" height="56" fill="#c4a870"/>
<rect x="22" y="2" width="10" height="34" fill="#ae985a"/>
<rect x="32" y="-40" width="30" height="66" fill="#c6b872"/>
<rect x="60" y="-40" width="50" height="66" fill="#dcc878"/>
<rect x="75" y="4" width="30" height="14" fill="#e8d47e"/>
<rect x="20" y="31" width="62" height="5" fill="#a08a58"/>
<ellipse cx="88" cy="30" rx="6" ry="9" fill="#988236"/>
<rect x="30" y="38" width="75" height="20" fill="#e6dcb0"/>
<rect x="21" y="42" width="8" height="26" fill="#a08c50"/>
<rect x="33" y="50" width="18" height="62" fill="#ecdcaa"/>
<ellipse cx="64" cy="68" rx="9" ry="13" fill="#bcb080"/>
<ellipse cx="92" cy="74" rx="14" ry="17" fill="#f6f2e2"/>
<rect x="-40" y="47" width="54" height="8" fill="#d8cc80"/>
<ellipse cx="38" cy="115" rx="9" ry="12" fill="#f0e8b4"/>
<rect x="100" y="-40" width="145" height="48" fill="#a88840"/>
<rect x="120" y="-40" width="35" height="49" fill="#c09050"/>
<rect x="100" y="8" width="60" height="12" fill="#c8b050"/>
<ellipse cx="146" cy="14" rx="9" ry="6" fill="#a09434"/>
<ellipse cx="106" cy="25" rx="7" ry="9" fill="#9a6c28"/>
<rect x="115" y="20" width="40" height="22" fill="#e2d272"/>
<rect x="150" y="8" width="95" height="100" fill="#ece4b0"/>
<rect x="186" y="8" width="12" height="100" fill="#d0c070"/>
<rect x="160" y="8" width="14" height="20" fill="#f0dca0"/>
<ellipse cx="202" cy="73" rx="5" ry="15" fill="#8a6828"/>
<ellipse cx="205.5" cy="73" rx="3.5" ry="11" fill="#4a2c08"/>
<ellipse cx="175" cy="72" rx="11" ry="9" fill="#cdc878"/>
<rect x="140" y="48" width="18" height="62" fill="#f6eeb0"/>
<rect x="145" y="72" width="7" height="36" fill="#fcf4a8"/>
<ellipse cx="148" cy="30" rx="5" ry="7" fill="#f0d8b0"/>
<rect x="125" y="105" width="35" height="35" fill="#ece4b0"/>
<rect x="155" y="101" width="50" height="30" fill="#f4ecc0"/>
<rect x="155" y="101" width="6" height="30" fill="#d8d088"/>
<rect x="128" y="130" width="120" height="21" fill="#c0b070"/>
<rect x="-40" y="153" width="100" height="92" fill="#b88c48"/>
<rect x="-40" y="153" width="70" height="10" fill="#b49040"/>
<rect x="8" y="153" width="20" height="8" fill="#a89838"/>
<ellipse cx="21" cy="174" rx="9" ry="14" fill="#2a1408"/>
<ellipse cx="20" cy="185" rx="8" ry="8" fill="#202410"/>
<rect x="-40" y="192" width="90" height="53" fill="#3a3c0c"/>
<ellipse cx="18" cy="199" rx="12" ry="7" fill="#2a3808"/>
<rect x="48" y="153" width="26" height="12" fill="#d0b040"/>
<ellipse cx="53" cy="158" rx="3" ry="4" fill="#6a8068"/>
<rect x="52" y="178" width="24" height="24" fill="#c8a040"/>
<path d="M70,154 L96,122 L102,154 Z" fill="#e8d888"/>
<ellipse cx="92" cy="135" rx="5" ry="6" fill="#f2e4a4"/>
<path d="M78,163 L132,172 L132,245 L66,245 Z" fill="#3a4610"/>
<rect x="78" y="157" width="25" height="6" fill="#8a9830"/>
<rect x="125" y="185" width="32" height="60" fill="#5c5c14"/>
<rect x="101" y="150" width="30" height="16" fill="#86705a"/>
<rect x="130" y="150" width="40" height="16" fill="#8e7e44"/>
<rect x="170" y="150" width="75" height="16" fill="#6a5840"/>
<rect x="101" y="165" width="28" height="8" fill="#7a6858"/>
<rect x="125" y="165" width="35" height="20" fill="#74664a"/>
<rect x="160" y="160" width="85" height="10" fill="#7a6848"/>
<rect x="155" y="168" width="90" height="18" fill="#4a3c20"/>
<rect x="155" y="185" width="90" height="8" fill="#5a4c38"/>
<rect x="158" y="191" width="90" height="54" fill="#1c1408"/>
<rect x="40" y="195" width="120" height="50" fill="#3c3a10"/>
<ellipse cx="114" cy="148" rx="14" ry="9" fill="#7a5818"/>
<ellipse cx="122" cy="146" rx="5" ry="4" fill="#5a3c08"/>
<rect x="100" y="130" width="3" height="30" fill="#c89818"/>
<ellipse cx="119" cy="50" rx="15" ry="5.5" fill="#b8b8d8"/>
<ellipse cx="121" cy="58" rx="15.5" ry="8" fill="#7a82c2"/>
<ellipse cx="137" cy="76" rx="4.5" ry="14" fill="#7c80b8" transform="rotate(-10 137 76)"/>
<ellipse cx="138" cy="85" rx="4" ry="8" fill="#60609a"/>
<ellipse cx="124" cy="81" rx="14" ry="17" fill="#fcf9fd"/>
<ellipse cx="106" cy="69" rx="5" ry="6" fill="#ccd8c4"/>
<ellipse cx="121" cy="101" rx="15" ry="13" fill="#aaa4ae"/>
<ellipse cx="111" cy="113" rx="14" ry="19" fill="#7c7a6c" transform="rotate(27 111 113)"/>
<ellipse cx="105" cy="112" rx="9" ry="7" fill="#4c4a40"/>
<ellipse cx="113" cy="60" rx="7" ry="6" fill="#343c48"/>
<path d="M90,65 L104,59 L104,67 Z" fill="#5c4e28"/>
<path d="M85.8,98.8 L90.2,101.2 L56.8,163.9 L53.2,162.1 Z" fill="#ead2b0"/>
<path d="M102.3,67.1 L113.7,72.9 L99.1,103.0 L86.9,97.0 Z" fill="#161c28"/>
<path d="M92.8,85.0 L104.6,91.0 L54.7,183.6 L46.5,179.4 Z" fill="#1a0e04"/>
<rect x="-40" y="-40" width="285" height="40.6" fill="#6a5420"/>
<rect x="-40" y="-40" width="40.6" height="285" fill="#7a6430"/>
<rect x="204.3" y="-40" width="40" height="285" fill="#5a4a20"/>
</g></svg>
<filter id="bf5" filterUnits="userSpaceOnUse" x="-40" y="-40" width="285" height="285" color-interpolation-filters="sRGB"><feGaussianBlur stdDeviation="4.4"/></filter>
<svg x="808.6" y="1041.0" width="205.1" height="204.2" viewBox="0 0 205 205" preserveAspectRatio="none" overflow="hidden">
<g filter="url(#bf5)">
<rect x="-40" y="-40" width="285" height="285" fill="#e6e2a6"/>
<rect x="-40" y="-40" width="64" height="146" fill="#ccb680"/>
<rect x="-40" y="100" width="54" height="56" fill="#c4a870"/>
<rect x="22" y="2" width="10" height="34" fill="#ae985a"/>
<rect x="32" y="-40" width="30" height="66" fill="#c6b872"/>
<rect x="60" y="-40" width="50" height="66" fill="#dcc878"/>
<rect x="75" y="4" width="30" height="14" fill="#e8d47e"/>
<rect x="20" y="31" width="62" height="5" fill="#a08a58"/>
<ellipse cx="88" cy="30" rx="6" ry="9" fill="#988236"/>
<rect x="30" y="38" width="75" height="20" fill="#e6dcb0"/>
<rect x="21" y="42" width="8" height="26" fill="#a08c50"/>
<rect x="33" y="50" width="18" height="62" fill="#ecdcaa"/>
<ellipse cx="64" cy="68" rx="9" ry="13" fill="#bcb080"/>
<ellipse cx="92" cy="74" rx="14" ry="17" fill="#f6f2e2"/>
<rect x="-40" y="47" width="54" height="8" fill="#d8cc80"/>
<ellipse cx="38" cy="115" rx="9" ry="12" fill="#f0e8b4"/>
<rect x="100" y="-40" width="145" height="48" fill="#a88840"/>
<rect x="120" y="-40" width="35" height="49" fill="#c09050"/>
<rect x="100" y="8" width="60" height="12" fill="#c8b050"/>
<ellipse cx="146" cy="14" rx="9" ry="6" fill="#a09434"/>
<ellipse cx="106" cy="25" rx="7" ry="9" fill="#9a6c28"/>
<rect x="115" y="20" width="40" height="22" fill="#e2d272"/>
<rect x="150" y="8" width="95" height="100" fill="#ece4b0"/>
<rect x="186" y="8" width="12" height="100" fill="#d0c070"/>
<rect x="160" y="8" width="14" height="20" fill="#f0dca0"/>
<ellipse cx="202" cy="73" rx="5" ry="15" fill="#8a6828"/>
<ellipse cx="205.5" cy="73" rx="3.5" ry="11" fill="#4a2c08"/>
<ellipse cx="175" cy="72" rx="11" ry="9" fill="#cdc878"/>
<rect x="140" y="48" width="18" height="62" fill="#f6eeb0"/>
<rect x="145" y="72" width="7" height="36" fill="#fcf4a8"/>
<ellipse cx="148" cy="30" rx="5" ry="7" fill="#f0d8b0"/>
<rect x="125" y="105" width="35" height="35" fill="#ece4b0"/>
<rect x="155" y="101" width="50" height="30" fill="#f4ecc0"/>
<rect x="155" y="101" width="6" height="30" fill="#d8d088"/>
<rect x="128" y="130" width="120" height="21" fill="#c0b070"/>
<rect x="-40" y="153" width="100" height="92" fill="#b88c48"/>
<rect x="-40" y="153" width="70" height="10" fill="#b49040"/>
<rect x="8" y="153" width="20" height="8" fill="#a89838"/>
<ellipse cx="21" cy="174" rx="9" ry="14" fill="#2a1408"/>
<ellipse cx="20" cy="185" rx="8" ry="8" fill="#202410"/>
<rect x="-40" y="192" width="90" height="53" fill="#3a3c0c"/>
<ellipse cx="18" cy="199" rx="12" ry="7" fill="#2a3808"/>
<rect x="48" y="153" width="26" height="12" fill="#d0b040"/>
<ellipse cx="53" cy="158" rx="3" ry="4" fill="#6a8068"/>
<rect x="52" y="178" width="24" height="24" fill="#c8a040"/>
<path d="M70,154 L96,122 L102,154 Z" fill="#e8d888"/>
<ellipse cx="92" cy="135" rx="5" ry="6" fill="#f2e4a4"/>
<path d="M78,163 L132,172 L132,245 L66,245 Z" fill="#3a4610"/>
<rect x="78" y="157" width="25" height="6" fill="#8a9830"/>
<rect x="125" y="185" width="32" height="60" fill="#5c5c14"/>
<rect x="101" y="150" width="30" height="16" fill="#86705a"/>
<rect x="130" y="150" width="40" height="16" fill="#8e7e44"/>
<rect x="170" y="150" width="75" height="16" fill="#6a5840"/>
<rect x="101" y="165" width="28" height="8" fill="#7a6858"/>
<rect x="125" y="165" width="35" height="20" fill="#74664a"/>
<rect x="160" y="160" width="85" height="10" fill="#7a6848"/>
<rect x="155" y="168" width="90" height="18" fill="#4a3c20"/>
<rect x="155" y="185" width="90" height="8" fill="#5a4c38"/>
<rect x="158" y="191" width="90" height="54" fill="#1c1408"/>
<rect x="40" y="195" width="120" height="50" fill="#3c3a10"/>
<ellipse cx="114" cy="148" rx="14" ry="9" fill="#7a5818"/>
<ellipse cx="122" cy="146" rx="5" ry="4" fill="#5a3c08"/>
<rect x="100" y="130" width="3" height="30" fill="#c89818"/>
<rect x="60" y="150" width="190" height="100" fill="#6a6a28" opacity="0.35"/>
<ellipse cx="119" cy="50" rx="15" ry="5.5" fill="#b0a0d8"/>
<ellipse cx="121" cy="58" rx="15.5" ry="8" fill="#8470c0"/>
<ellipse cx="137" cy="76" rx="4.5" ry="14" fill="#9080c4" transform="rotate(-10 137 76)"/>
<ellipse cx="138" cy="85" rx="4" ry="8" fill="#60609a"/>
<ellipse cx="124" cy="81" rx="14" ry="17" fill="#fcf9fd"/>
<ellipse cx="106" cy="69" rx="5" ry="6" fill="#ccd8c4"/>
<ellipse cx="121" cy="101" rx="15" ry="13" fill="#aaa4ae"/>
<ellipse cx="111" cy="113" rx="14" ry="19" fill="#7c7a6c" transform="rotate(27 111 113)"/>
<ellipse cx="105" cy="112" rx="9" ry="7" fill="#4c4a40"/>
<ellipse cx="113" cy="60" rx="7" ry="6" fill="#343c48"/>
<path d="M90,65 L104,59 L104,67 Z" fill="#5c4e28"/>
<path d="M85.8,98.8 L90.2,101.2 L56.8,163.9 L53.2,162.1 Z" fill="#ead2b0"/>
<path d="M102.3,67.1 L113.7,72.9 L99.1,103.0 L86.9,97.0 Z" fill="#161c28"/>
<path d="M92.8,85.0 L104.6,91.0 L54.7,183.6 L46.5,179.4 Z" fill="#1a0e04"/>
<rect x="-40" y="-40" width="285" height="40.6" fill="#6a5420"/>
<rect x="-40" y="-40" width="40.6" height="285" fill="#7a6430"/>
<rect x="204.3" y="-40" width="40" height="285" fill="#5a4a20"/>
</g></svg>
<filter id="bf6" filterUnits="userSpaceOnUse" x="-40" y="-40" width="285" height="285" color-interpolation-filters="sRGB"><feGaussianBlur stdDeviation="4.2 6"/></filter>
<svg x="575.9" y="1276.3" width="204.8" height="204.6" viewBox="0 0 205 205" preserveAspectRatio="none" overflow="hidden">
<g filter="url(#bf6)">
<rect x="-40" y="-40" width="285" height="285" fill="#eadfa8"/>
<rect x="-40" y="-40" width="64" height="146" fill="#ccb680"/>
<rect x="-40" y="100" width="54" height="56" fill="#c4a870"/>
<rect x="22" y="2" width="10" height="34" fill="#ae985a"/>
<rect x="32" y="-40" width="30" height="66" fill="#c6b872"/>
<rect x="60" y="-40" width="50" height="66" fill="#dcc878"/>
<rect x="75" y="4" width="30" height="14" fill="#e8d47e"/>
<rect x="20" y="31" width="62" height="5" fill="#a08a58"/>
<ellipse cx="88" cy="30" rx="6" ry="9" fill="#988236"/>
<rect x="30" y="38" width="75" height="20" fill="#e6dcb0"/>
<rect x="21" y="42" width="8" height="26" fill="#a08c50"/>
<rect x="33" y="50" width="18" height="62" fill="#ecdcaa"/>
<ellipse cx="64" cy="68" rx="9" ry="13" fill="#bcb080"/>
<ellipse cx="92" cy="74" rx="14" ry="17" fill="#f6f2e2"/>
<rect x="-40" y="47" width="54" height="8" fill="#d8cc80"/>
<ellipse cx="38" cy="115" rx="9" ry="12" fill="#f0e8b4"/>
<rect x="100" y="-40" width="145" height="48" fill="#a88840"/>
<rect x="120" y="-40" width="35" height="49" fill="#c09050"/>
<rect x="100" y="8" width="60" height="12" fill="#c8b050"/>
<ellipse cx="146" cy="14" rx="9" ry="6" fill="#a09434"/>
<ellipse cx="106" cy="25" rx="7" ry="9" fill="#9a6c28"/>
<rect x="115" y="20" width="40" height="22" fill="#e2d272"/>
<rect x="150" y="8" width="95" height="100" fill="#ece4b0"/>
<rect x="186" y="8" width="12" height="100" fill="#d0c070"/>
<rect x="160" y="8" width="14" height="20" fill="#f0dca0"/>
<ellipse cx="202" cy="73" rx="5" ry="15" fill="#8a6828"/>
<ellipse cx="205.5" cy="73" rx="3.5" ry="11" fill="#4a2c08"/>
<ellipse cx="175" cy="72" rx="11" ry="9" fill="#cdc878"/>
<rect x="140" y="48" width="18" height="62" fill="#f6eeb0"/>
<rect x="145" y="72" width="7" height="36" fill="#fcf4a8"/>
<ellipse cx="148" cy="30" rx="5" ry="7" fill="#f0d8b0"/>
<rect x="125" y="105" width="35" height="35" fill="#ece4b0"/>
<rect x="155" y="101" width="50" height="30" fill="#f4ecc0"/>
<rect x="155" y="101" width="6" height="30" fill="#d8d088"/>
<rect x="128" y="130" width="120" height="21" fill="#c0b070"/>
<rect x="-40" y="153" width="100" height="92" fill="#b88c48"/>
<rect x="-40" y="153" width="70" height="10" fill="#b49040"/>
<rect x="8" y="153" width="20" height="8" fill="#a89838"/>
<ellipse cx="21" cy="174" rx="9" ry="14" fill="#2a1408"/>
<ellipse cx="20" cy="185" rx="8" ry="8" fill="#202410"/>
<rect x="-40" y="192" width="90" height="53" fill="#3a3c0c"/>
<ellipse cx="18" cy="199" rx="12" ry="7" fill="#2a3808"/>
<rect x="48" y="153" width="26" height="12" fill="#d0b040"/>
<ellipse cx="53" cy="158" rx="3" ry="4" fill="#6a8068"/>
<rect x="52" y="178" width="24" height="24" fill="#c8a040"/>
<path d="M70,154 L96,122 L102,154 Z" fill="#e8d888"/>
<ellipse cx="92" cy="135" rx="5" ry="6" fill="#f2e4a4"/>
<path d="M78,163 L132,172 L132,245 L66,245 Z" fill="#3a4610"/>
<rect x="78" y="157" width="25" height="6" fill="#8a9830"/>
<rect x="125" y="185" width="32" height="60" fill="#4a4a14"/>
<rect x="101" y="150" width="30" height="16" fill="#86705a"/>
<rect x="130" y="150" width="40" height="16" fill="#8e7e44"/>
<rect x="170" y="150" width="75" height="16" fill="#6a5840"/>
<rect x="101" y="165" width="28" height="8" fill="#7a6858"/>
<rect x="125" y="165" width="35" height="20" fill="#8a6a40"/>
<rect x="160" y="160" width="85" height="10" fill="#7a6848"/>
<rect x="155" y="168" width="90" height="18" fill="#6a4a28"/>
<rect x="155" y="185" width="90" height="8" fill="#5a4c38"/>
<rect x="158" y="191" width="90" height="54" fill="#2c1408"/>
<rect x="40" y="195" width="120" height="50" fill="#3c3a10"/>
<ellipse cx="114" cy="148" rx="14" ry="9" fill="#7a5818"/>
<ellipse cx="122" cy="146" rx="5" ry="4" fill="#5a3c08"/>
<rect x="100" y="130" width="3" height="30" fill="#c89818"/>
<rect x="100" y="150" width="150" height="100" fill="#7a5430" opacity="0.45"/>
<ellipse cx="203" cy="78" rx="9" ry="16" fill="#5a5a10"/>
<ellipse cx="119" cy="50" rx="15" ry="5.5" fill="#c0c0dc"/>
<ellipse cx="121" cy="58" rx="15.5" ry="8" fill="#9896c0"/>
<ellipse cx="137" cy="76" rx="4.5" ry="14" fill="#8c8cb4" transform="rotate(-10 137 76)"/>
<ellipse cx="138" cy="85" rx="4" ry="8" fill="#60609a"/>
<ellipse cx="124" cy="81" rx="14" ry="17" fill="#fcf9fd"/>
<ellipse cx="106" cy="69" rx="5" ry="6" fill="#ccd8c4"/>
<ellipse cx="121" cy="101" rx="15" ry="13" fill="#aaa4ae"/>
<ellipse cx="111" cy="113" rx="14" ry="19" fill="#7c7a6c" transform="rotate(27 111 113)"/>
<ellipse cx="105" cy="112" rx="9" ry="7" fill="#4c4a40"/>
<ellipse cx="113" cy="60" rx="7" ry="6" fill="#343c48"/>
<path d="M90,65 L104,59 L104,67 Z" fill="#5c4e28"/>
<path d="M85.8,98.8 L90.2,101.2 L56.8,163.9 L53.2,162.1 Z" fill="#ead2b0"/>
<path d="M103.1,67.6 L112.9,72.4 L98.2,102.6 L87.8,97.4 Z" fill="#161c28"/>
<path d="M93.7,85.4 L103.7,90.6 L54.1,183.3 L47.1,179.7 Z" fill="#1a0e04"/>
<rect x="-40" y="-40" width="285" height="40.6" fill="#6a5420"/>
<rect x="-40" y="-40" width="40.6" height="285" fill="#7a6430"/>
<rect x="204.3" y="-40" width="40" height="285" fill="#5a4a20"/>
</g></svg>
<filter id="bfz" filterUnits="userSpaceOnUse" x="-40" y="-40" width="285" height="285" color-interpolation-filters="sRGB"><feGaussianBlur stdDeviation="11 9"/></filter>
<svg x="808.6" y="1276.3" width="205.1" height="204.6" viewBox="0 0 205 205" preserveAspectRatio="none" overflow="hidden">
<g filter="url(#bfz)">
<rect x="-40" y="-40" width="69" height="69" fill="#8f8f58"/>
<rect x="28" y="-40" width="37" height="69" fill="#a6a660"/>
<rect x="64" y="-40" width="27" height="69" fill="#b0b068"/>
<rect x="90" y="-40" width="27" height="69" fill="#bcbc70"/>
<rect x="116" y="-40" width="33" height="69" fill="#c0bc70"/>
<rect x="148" y="-40" width="98" height="69" fill="#c0bc70"/>
<rect x="-40" y="28" width="69" height="51" fill="#a8a868"/>
<rect x="28" y="28" width="37" height="51" fill="#cccc94"/>
<rect x="64" y="28" width="27" height="51" fill="#a8a870"/>
<rect x="90" y="28" width="27" height="51" fill="#8e8c54"/>
<rect x="116" y="28" width="33" height="51" fill="#aaa870"/>
<rect x="148" y="28" width="98" height="51" fill="#bcbc80"/>
<rect x="-40" y="78" width="69" height="51" fill="#c8c890"/>
<rect x="28" y="78" width="37" height="51" fill="#eeeec6"/>
<rect x="64" y="78" width="27" height="51" fill="#b0ae88"/>
<rect x="90" y="78" width="27" height="51" fill="#66664a"/>
<rect x="116" y="78" width="33" height="51" fill="#8c8c70"/>
<rect x="148" y="78" width="98" height="51" fill="#c6c6aa"/>
<rect x="-40" y="128" width="69" height="43" fill="#707038"/>
<rect x="28" y="128" width="37" height="43" fill="#c0c098"/>
<rect x="64" y="128" width="27" height="43" fill="#84846a"/>
<rect x="90" y="128" width="27" height="43" fill="#38381e"/>
<rect x="116" y="128" width="33" height="43" fill="#66664a"/>
<rect x="148" y="128" width="98" height="43" fill="#a4a488"/>
<rect x="-40" y="170" width="69" height="76" fill="#666830"/>
<rect x="28" y="170" width="37" height="76" fill="#a8a880"/>
<rect x="64" y="170" width="27" height="76" fill="#7a7a58"/>
<rect x="90" y="170" width="27" height="76" fill="#2e2e16"/>
<rect x="116" y="170" width="33" height="76" fill="#5c5c40"/>
<rect x="148" y="170" width="98" height="76" fill="#949478"/>
</g></svg>
<g font-family='"Liberation Sans", Arial, Helvetica, sans-serif' font-size="38.6">
<text x="224.4" y="764" text-anchor="middle" letter-spacing="0.36" fill="#000">Input Image</text>
<text x="613" y="709.3" text-anchor="middle" fill="#000">High</text>
<text x="896.3" y="711.8" text-anchor="middle" fill="#000">Rate (devices/pixel)</text>
<text x="1209.7" y="709.3" text-anchor="middle" fill="#000">Low</text>
<text x="675" y="781.8" text-anchor="middle" fill="#000">0.44</text>
<text x="906.5" y="782.5" text-anchor="middle" fill="#000">0.22</text>
<text x="1139.7" y="783.3" text-anchor="middle" fill="#000">0.<tspan font-family="Noto Sans CJK SC, Liberation Sans, sans-serif">11</tspan></text>
<text x="437.5" y="841.1" text-anchor="middle" fill="#ff0000">JSCC</text>
<text x="438" y="887.7" text-anchor="middle" letter-spacing="0.18" fill="#ff0000">(opt. MSE)</text>
<text x="404" y="1066" text-anchor="middle" letter-spacing="0.4" fill="#ed9b1e">WEBP</text>
<text x="404.3" y="1112.3" text-anchor="middle" letter-spacing="0.3" fill="#ed9b1e">(<tspan font-family="Noto Sans CJK SC, Liberation Sans, sans-serif">1</tspan>.95 bits/device)</text>
<text x="400.4" y="1313.2" text-anchor="middle" fill="#0000ff">JPEG 2000</text>
<text x="401.5" y="1359.5" text-anchor="middle" letter-spacing="0.3" fill="#0000ff">(<tspan font-family="Noto Sans CJK SC, Liberation Sans, sans-serif">1</tspan>.95 bits/device)</text>
</g>
<path d="M583.5,723.2 H1221 V717.6 L1232.5,728.6 L1221,739.7 V734 H583.5 Z" fill="#2f5597"/>
<path d="M585,725 H1221.5 V721.6 L1229.6,728.6 L1221.5,735.7 V732.2 H585 Z" fill="#000"/>
<g fill="none" stroke-width="4.2" stroke-linecap="round" stroke-linejoin="round">
<path d="M330.2,905.9 H568" stroke="#ff0000" stroke-linecap="butt"/>
<path d="M540.1,890.4 L569.3,905.9 L540.1,921.6" stroke="#ff0000"/>
<path d="M225.3,1009 V1141.8 H565" stroke="#ed9b1e" stroke-linecap="butt" stroke-linejoin="miter"/>
<path d="M537,1126.8 L565.5,1141.8 L537,1157" stroke="#ed9b1e"/>
<path d="M225.3,1143.9 V1380.3 H566" stroke="#0000ff" stroke-linecap="butt" stroke-linejoin="miter"/>
<path d="M537,1365 L566.5,1380.3 L537,1395.8" stroke="#0000ff"/>
</g>
<path d="M570.50,1019.00 V793.70 H1247.70 V1019.00 Z" fill="none" stroke="#ff0000" stroke-width="4.6" stroke-dasharray="17.1 12.83" stroke-dashoffset="0.0"/>
<rect x="568.20" y="1016.70" width="4.6" height="4.6" fill="#ff0000"/>
<path d="M567.40,1253.20 V1029.50 H1018.80 V1253.20 Z" fill="none" stroke="#ed9b1e" stroke-width="4.5" stroke-dasharray="17.1 12.83" stroke-dashoffset="1.6"/>
<rect x="565.15" y="1250.95" width="4.5" height="4.5" fill="#ed9b1e"/>
<path d="M567.85,1492.80 V1267.30 H1019.10 V1492.80 Z" fill="none" stroke="#0070c0" stroke-width="4.5" stroke-dasharray="17.1 12.83" stroke-dashoffset="0.0"/>
<rect x="565.60" y="1490.55" width="4.5" height="4.5" fill="#0070c0"/>
</svg>
</body></html>
